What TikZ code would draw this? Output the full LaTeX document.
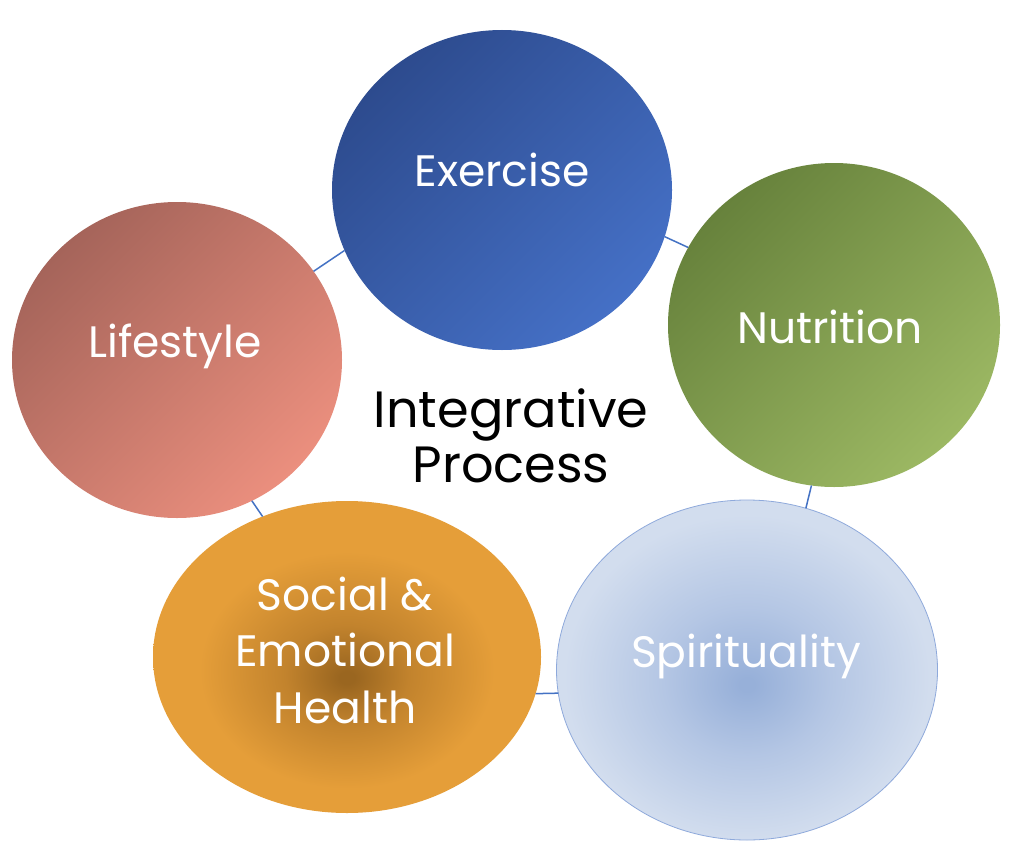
\documentclass[tikz,border=0pt]{standalone}
\usepackage{fontspec}
\setmainfont{Poppins}
\usetikzlibrary{shapes.geometric}
\definecolor{exA}{HTML}{2D4B8E}
\definecolor{exB}{HTML}{4570C6}
\definecolor{nuA}{HTML}{67823C}
\definecolor{nuB}{HTML}{9CB863}
\definecolor{liA}{HTML}{A5645A}
\definecolor{liB}{HTML}{EB8F7E}
\definecolor{soIn}{HTML}{9A6620}
\definecolor{soMid}{HTML}{C2832D}
\definecolor{soOut}{HTML}{E59E39}
\definecolor{spIn}{HTML}{97B0D9}
\definecolor{spMid}{HTML}{B4C6E4}
\definecolor{spOut}{HTML}{D2DDEE}
\definecolor{spLine}{HTML}{8EA9DB}
\definecolor{conn}{HTML}{4472C4}
\pgfdeclareradialshading{soshade}{\pgfpoint{0bp}{-3.4bp}}{color(0bp)=(soIn); color(1bp)=(soIn); color(8bp)=(soMid); color(19bp)=(soOut); color(25bp)=(soOut); color(50bp)=(soOut)}
\pgfdeclareradialshading{spshade}{\pgfpoint{0bp}{-2.2bp}}{color(0bp)=(spIn); color(1bp)=(spIn); color(11bp)=(spMid); color(24bp)=(spOut); color(25bp)=(spOut); color(50bp)=(spOut)}
\tikzset{
  bubble/.style={ellipse, inner sep=0pt, outer sep=0pt, draw=none},
  lintop/.style 2 args={top color=#1, bottom color=#2, shading angle=45},
  bubtext/.style={text=white, font=\fontsize{44}{56.5}\selectfont, inner sep=0pt, align=center},
  conline/.style={draw=conn, line width=1.5pt}
}
\begin{document}
\begin{tikzpicture}[x=1pt,y=-1pt]
\useasboundingbox[fill=white] (0,0) rectangle (1024,864);
% circles
\node[bubble, lintop={exA}{exB}, minimum width=340, minimum height=320] (ex) at (502,190) {};
\node[bubble, lintop={nuA}{nuB}, minimum width=332, minimum height=324] (nu) at (834,325) {};
\node[bubble, lintop={liA}{liB}, minimum width=330, minimum height=316] (li) at (177,360) {};
\node[bubble, shading=soshade, minimum width=388, minimum height=312] (so) at (347,657) {};
\node[bubble, shading=spshade, draw=spLine, line width=0.8pt, minimum width=381, minimum height=340] (sp) at (747,670) {};
% connectors
\draw[conline] (li.33.5) -- (ex.201);
\draw[conline] (ex.344.5) -- (nu.152);
\draw[conline] (nu.262) -- (sp.70);
\draw[conline] (sp.187) -- (so.349.5);
\draw[conline] (so.121) -- (li.298);
% labels
\node[bubtext, anchor=base] (tex) at (502,186) {Exercise};
\node[bubtext, anchor=base] (tnu) at (830,343) {Nutrition};
\node[bubtext, anchor=base] (tli) at (175,357) {Lifestyle};
\node[bubtext, anchor=base] (tsp) at (746,667) {Spirituality};
\node[bubtext, anchor=base] (tso) at (345,723) {Social \&\\Emotional\\Health};
\node[font=\fontsize{51}{55}\selectfont, inner sep=0pt, align=center, anchor=base] (mid) at (511,482) {Integrative\\Process};
\end{tikzpicture}
\end{document}
